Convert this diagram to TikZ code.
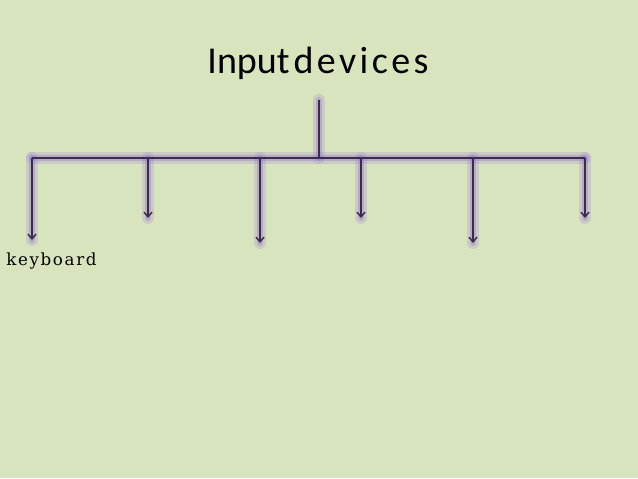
\documentclass[tikz,border=0pt]{standalone}
\usepackage{fontspec}
\setmainfont{Liberation Serif}
\newfontfamily\titlefont{Carlito}
\newfontfamily\titlespaced{Carlito}[LetterSpace=9]
\newfontfamily\labelfont{DejaVu Serif}[LetterSpace=10]
\usetikzlibrary{arrows.meta}
\definecolor{slidebg}{RGB}{216,228,189}
\definecolor{linecol}{RGB}{58,44,74}
\definecolor{glowcol}{RGB}{140,100,215}
\tikzset{
  glow/.style={line width=9, glowcol, opacity=0.18, line cap=round},
  innerglow/.style={line width=4.5, glowcol, opacity=0.3, line cap=round},
  wire/.style={line width=1.1, linecol},
  drop/.style={wire, -{Straight Barb[length=3.5pt,width=6pt]}}
}
\begin{document}
\begin{tikzpicture}[x=0.75pt, y=-0.75pt]
        \fill[slidebg] (0,0) rectangle (638,478);
        \node[font=\titlefont\fontsize{28.5}{34}\selectfont, anchor=base] (title) at (318,74)
          {Input\hspace{3pt}{\titlespaced devices}};

        \coordinate (top) at (319,100);
        \coordinate (hub) at (319,158);
        \coordinate (J1) at (32,158);
        \coordinate (J2) at (148,158);
        \coordinate (J3) at (260,158);
        \coordinate (J4) at (361,158);
        \coordinate (J5) at (473,158);
        \coordinate (J6) at (585,158);
        \coordinate (E1) at (32,240);
        \coordinate (E2) at (148,218);
        \coordinate (E3) at (260,243);
        \coordinate (E4) at (361,218);
        \coordinate (E5) at (473,243);
        \coordinate (E6) at (585,218);
        \node[font=\labelfont\fontsize{12.5}{15}\selectfont, anchor=base west, inner sep=0] (kbd) at (6,265) {keyboard};

        % glow behind the lines
        \foreach \g in {glow,innerglow} {
          \draw[\g] (top) -- (hub);
          \draw[\g] (J1) -- (J6);
          \foreach \i in {1,...,6} {
            \draw[\g] (J\i) -- (E\i);
          }
        }

        \draw[wire] (top) -- (hub);
        \draw[wire] (J1) -- (J6);
        \foreach \i in {1,...,6} {
          \draw[drop] (J\i) -- (E\i);
        }
      \end{tikzpicture}
\end{document}
